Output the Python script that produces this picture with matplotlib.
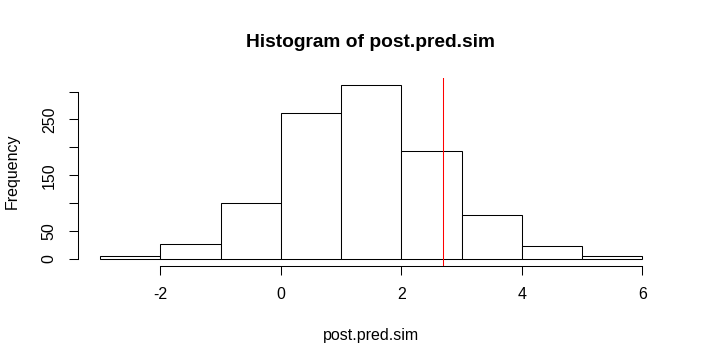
import numpy as np
import matplotlib
matplotlib.use("Agg")
import matplotlib.pyplot as plt

plt.rcParams["font.family"] = ["Liberation Sans", "DejaVu Sans"]

# histogram bins (edges) and counts
bin_edges = [-3, -2, -1, 0, 1, 2, 3, 4, 5, 6]
counts    = [5, 26, 100, 262, 312, 193, 78, 22, 5]
observed  = 2.70

x_ticks  = [-2, 0, 2, 4, 6]
y_ticks  = [0, 50, 100, 150, 200, 250, 300]
y_labels = ["0", "50", "", "150", "", "250", ""]

W, H = 704, 363
fig = plt.figure(figsize=(W / 100, H / 100), dpi=100)
ax = fig.add_axes([78.3 / W, (H - 265.7) / H, (664 - 78.3) / W, (265.7 - 78) / H])

ax.bar(bin_edges[:-1], counts, width=np.diff(bin_edges), align="edge",
       facecolor="white", edgecolor="black", linewidth=0.75)
ax.axvline(observed, color="red", linewidth=0.75)

# R-style 4% padding around the data range
ax.set_xlim(-3.36, 6.36)
ax.set_ylim(-0.04 * max(counts), 1.04 * max(counts))

for s in ["top", "right"]:
    ax.spines[s].set_visible(False)
ax.spines["left"].set_bounds(0, 300)
ax.spines["bottom"].set_bounds(-2, 6)
for s in ["left", "bottom"]:
    ax.spines[s].set_linewidth(0.75)

ax.set_xticks(x_ticks)
ax.set_xticklabels([str(t) for t in x_ticks])
ax.set_yticks(y_ticks)
ax.set_yticklabels(y_labels, rotation=90, va="center")
ax.tick_params(length=6.5, width=0.75, labelsize=11.5, pad=9)

fig.text(371 / W, 1 - 46.7 / H, "Histogram of post.pred.sim",
         ha="center", va="baseline", fontsize=13.8, fontweight="bold")
fig.text(371 / W, 1 - 340 / H, "post.pred.sim",
         ha="center", va="baseline", fontsize=11.5)
fig.text(12.5 / W, 1 - 171 / H, "Frequency", rotation=90,
         ha="center", va="center", fontsize=11.5)

fig.savefig("out.png", dpi=100, facecolor="white")
